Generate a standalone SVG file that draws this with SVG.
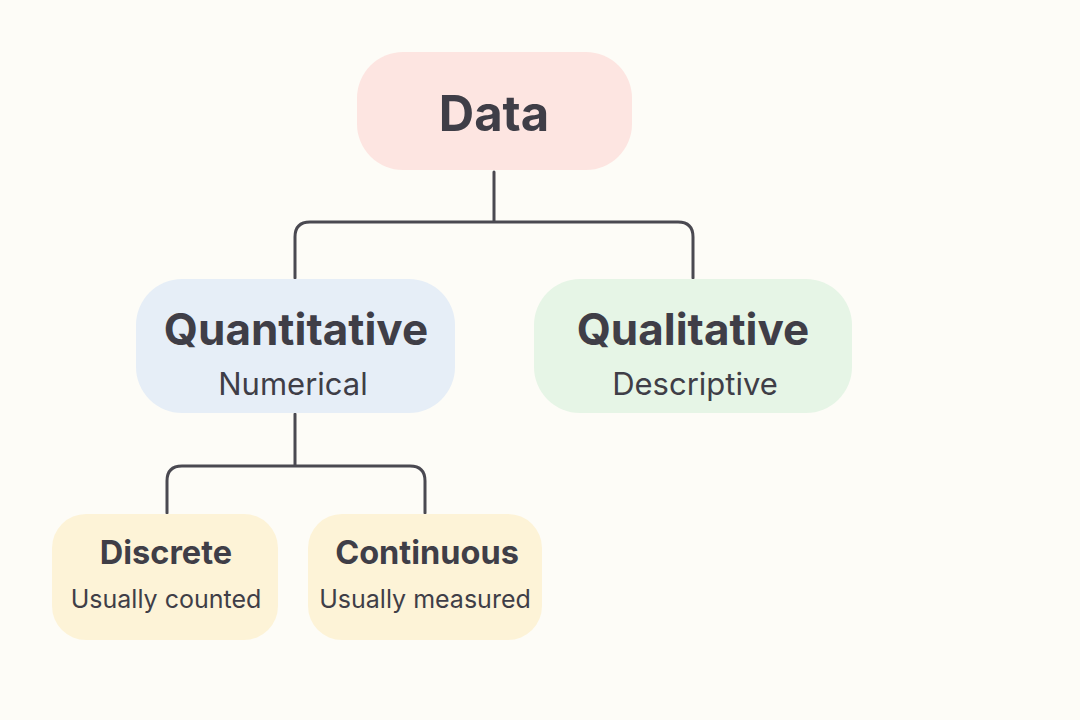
<svg xmlns="http://www.w3.org/2000/svg" width="1080" height="720" viewBox="0 0 1080 720">
<style>
.t{font-family:Inter,"Liberation Sans",sans-serif;fill:#3f3e47;text-anchor:middle}
.b{font-weight:700}
.c{fill:none;stroke:#4a4951;stroke-width:3;stroke-linecap:round;stroke-linejoin:round}
</style>
<rect width="1080" height="720" fill="#fdfcf7"/>
<g id="connectors">
<path class="c" d="M494 172 V222 M295 278 V237 Q295 222 310 222 H678 Q693 222 693 237 V278"/>
<path class="c" d="M295 414 V466 M167 513 V481 Q167 466 182 466 H410 Q425 466 425 481 V513"/>
</g>
<g id="data">
<rect x="357" y="52" width="275" height="118" rx="46" fill="#fde5e1"/>
<text class="t b" x="494" y="131" font-size="49">Data</text>
</g>
<g id="quantitative">
<rect x="136" y="279" width="319" height="134" rx="46" fill="#e6eef7"/>
<text class="t b" x="296" y="345" font-size="44">Quantitative</text>
<text class="t" x="293" y="395" font-size="31">Numerical</text>
</g>
<g id="qualitative">
<rect x="534" y="279" width="318" height="134" rx="46" fill="#e6f5e6"/>
<text class="t b" x="693" y="345" font-size="44">Qualitative</text>
<text class="t" x="695" y="395" font-size="31">Descriptive</text>
</g>
<g id="discrete">
<rect x="52" y="514" width="226" height="126" rx="34" fill="#fdf3d7"/>
<text class="t b" x="166" y="564" font-size="32.5">Discrete</text>
<text class="t" x="166" y="608" font-size="25">Usually counted</text>
</g>
<g id="continuous">
<rect x="308" y="514" width="234" height="126" rx="34" fill="#fdf3d7"/>
<text class="t b" x="427" y="564" font-size="32.5">Continuous</text>
<text class="t" x="425" y="608" font-size="25">Usually measured</text>
</g>
</svg>
